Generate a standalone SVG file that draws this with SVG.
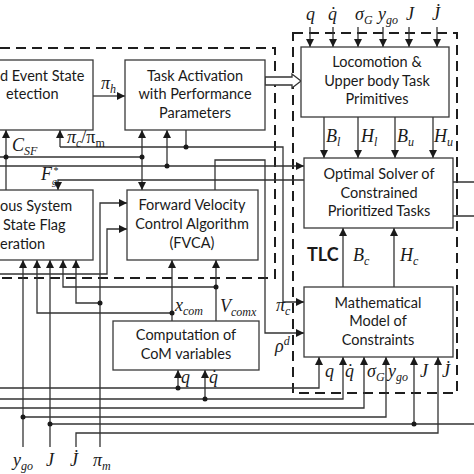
<svg xmlns="http://www.w3.org/2000/svg" width="474" height="474" viewBox="0 0 474 474">
<style>
.box{fill:#fff;stroke:#3a3a3a;stroke-width:1.3}
.ln{fill:none;stroke:#333;stroke-width:1.3}
.ar{fill:none;stroke:#333;stroke-width:1.3;marker-end:url(#ah)}
.dash{fill:none;stroke:#1e1e1e;stroke-width:2;stroke-dasharray:10 6}
.t{font-family:Lato,"Open Sans",sans-serif;font-size:14.5px;fill:#1a1a1a}
.tc{font-family:Lato,"Open Sans",sans-serif;font-size:14.5px;fill:#1a1a1a;text-anchor:middle}
.m{font-family:"Liberation Serif",serif;font-style:italic;font-size:18px;fill:#1a1a1a}
.s{font-size:12px}
.dot{fill:#1a1a1a}
</style>
<defs>
<marker id="ah" markerUnits="userSpaceOnUse" markerWidth="9" markerHeight="8" refX="8" refY="4" orient="auto">
<path d="M0,0 L8,4 L0,8 z" fill="#1a1a1a"/>
</marker>
</defs>
<rect width="474" height="474" fill="#fff"/>
<g id="frames">
<path class="dash" d="M0,48 H275 V278 H0"/>
<path class="dash" d="M293,33 H457 V393 H293 Z"/>
</g>
<g id="connectors">
<path class="ar" d="M93,96 H125"/>
<path d="M265,77 H292 V74 L301,81 L292,88 V85 H265 Z" fill="#fff" stroke="#333" stroke-width="1.3"/>
<path class="ar" d="M310,27 V47"/>
<path class="ar" d="M333,27 V47"/>
<path class="ar" d="M358,27 V47"/>
<path class="ar" d="M383,27 V47"/>
<path class="ar" d="M409,27 V47"/>
<path class="ar" d="M437,27 V47"/>
<path class="ar" d="M324,117 V158"/>
<path class="ar" d="M358,117 V158"/>
<path class="ar" d="M395,117 V158"/>
<path class="ar" d="M433,117 V158"/>
<path class="ln" d="M453,182 H474 M453,216 H474"/>
<path class="ar" d="M343,287 V228"/>
<path class="ar" d="M394,287 V228"/>
<path class="ar" d="M6,190 V130"/>
<path class="ln" d="M0,157 H142"/>
<path class="ar" d="M142,157 V130"/>
<path class="ar" d="M142,157 V190"/>
<path class="ln" d="M186,130 V147"/>
<path class="ar" d="M60,147 H283 V302 H304"/>
<path class="ar" d="M60,147 V130"/>
<path class="ar" d="M0,166 H304"/>
<path class="ar" d="M167,166 V130"/>
<path class="ar" d="M304,180 H58 V190"/>
<path class="ar" d="M215,190 V160 H265 V333 H304"/>
<path class="ar" d="M100,447 V203 H127"/>
<path class="ar" d="M100,303 H76 V260"/>
<path class="ar" d="M0,274 H107 V229 H127"/>
<path class="ar" d="M172,321 V260"/>
<path class="ar" d="M172,313 H37 V260"/>
<path class="ar" d="M216,321 V260"/>
<path class="ar" d="M216,287 H63 V260"/>
<path class="ar" d="M23,447 V260"/>
<path class="ar" d="M23,417 H386 V357"/>
<path class="ar" d="M50,447 V260"/>
<path class="ln" d="M50,424 H474"/>
<path class="ar" d="M414,424 V357"/>
<path class="ar" d="M76,447 V433 H438 V357"/>
<path class="ar" d="M0,388 H319 V357"/>
<path class="ar" d="M178,388 V370"/>
<path class="ar" d="M0,399 H343 V357"/>
<path class="ar" d="M205,399 V370"/>
<path class="ar" d="M0,408 H364 V357"/>
<circle class="dot" cx="6" cy="157" r="2.5"/>
<circle class="dot" cx="142" cy="157" r="2.5"/>
<circle class="dot" cx="186" cy="147" r="2.5"/>
<circle class="dot" cx="167" cy="166" r="2.5"/>
<circle class="dot" cx="100" cy="303" r="2.5"/>
<circle class="dot" cx="172" cy="313" r="2.5"/>
<circle class="dot" cx="216" cy="287" r="2.5"/>
<circle class="dot" cx="23" cy="417" r="2.5"/>
<circle class="dot" cx="50" cy="424" r="2.5"/>
<circle class="dot" cx="414" cy="424" r="2.5"/>
<circle class="dot" cx="178" cy="388" r="2.5"/>
<circle class="dot" cx="205" cy="399" r="2.5"/>
</g>
<g id="event">
<rect class="box" x="-2" y="60" width="95" height="70"/>
<text class="t" x="0" y="81">d Event State</text>
<text class="t" x="6" y="99">etection</text>
</g>
<g id="autonomous">
<rect class="box" x="-2" y="190" width="95" height="70"/>
<text class="t" x="0" y="211">ous System</text>
<text class="t" x="3" y="230">State Flag</text>
<text class="t" x="0" y="249">eration</text>
</g>
<g id="task">
<rect class="box" x="125" y="60" width="140" height="70"/>
<text class="tc" x="195" y="81">Task Activation</text>
<text class="tc" x="195" y="99">with Performance</text>
<text class="tc" x="195" y="118">Parameters</text>
</g>
<g id="fvca">
<rect class="box" x="127" y="190" width="131" height="70"/>
<text class="tc" x="192" y="210">Forward Velocity</text>
<text class="tc" x="192" y="229">Control Algorithm</text>
<text class="tc" x="192" y="248">(FVCA)</text>
</g>
<g id="com">
<rect class="box" x="113" y="321" width="146" height="49"/>
<text class="tc" x="186" y="340">Computation of</text>
<text class="tc" x="186" y="359">CoM variables</text>
</g>
<g id="locomotion">
<rect class="box" x="301" y="47" width="148" height="70"/>
<text class="tc" x="377" y="67">Locomotion &amp;</text>
<text class="tc" x="377" y="86">Upper body Task</text>
<text class="tc" x="377" y="104">Primitives</text>
</g>
<g id="solver">
<rect class="box" x="304" y="158" width="149" height="70"/>
<text class="tc" x="379" y="179">Optimal Solver of</text>
<text class="tc" x="379" y="198">Constrained</text>
<text class="tc" x="379" y="216">Prioritized Tasks</text>
</g>
<g id="math">
<rect class="box" x="304" y="287" width="149" height="70"/>
<text class="tc" x="378" y="308">Mathematical</text>
<text class="tc" x="378" y="326">Model of</text>
<text class="tc" x="378" y="345">Constraints</text>
</g>
<g id="labels">
<text class="m" x="101" y="89">π<tspan class="s" dy="4">h</tspan></text>
<text class="m" x="12" y="151">C<tspan class="s" dy="4">SF</tspan></text>
<text class="m" x="67" y="143">π<tspan class="s" dy="4">c</tspan><tspan dy="-4" font-style="normal">/π</tspan><tspan class="s" dy="4" font-style="normal">m</tspan></text>
<text class="m" x="41" y="180" font-size="15">F<tspan font-size="10" dy="5">g</tspan><tspan font-size="10" dx="-4" dy="-11">*</tspan></text>
<text class="m" x="326" y="142">B<tspan class="s" dy="4">l</tspan></text>
<text class="m" x="361" y="142">H<tspan class="s" dy="4">l</tspan></text>
<text class="m" x="397" y="142">B<tspan class="s" dy="4">u</tspan></text>
<text class="m" x="434" y="142">H<tspan class="s" dy="4">u</tspan></text>
<text x="307" y="261" font-family="Lato,'Open Sans',sans-serif" font-weight="bold" font-size="18" fill="#1a1a1a">TLC</text>
<text class="m" x="353" y="261">B<tspan class="s" dy="4">c</tspan></text>
<text class="m" x="400" y="261">H<tspan class="s" dy="4">c</tspan></text>
<text class="m" x="175" y="311">x<tspan class="s" dy="4">com</tspan></text>
<text class="m" x="220" y="312">V<tspan class="s" dy="4">comx</tspan></text>
<text class="m" x="276" y="311">π<tspan class="s" dy="4">c</tspan></text>
<text class="m" x="275" y="352">ρ<tspan class="s" dy="-7">d</tspan></text>
<text class="m" x="181" y="383">q</text>
<text class="m" x="209" y="383">q̇</text>
<text class="m" x="325" y="377">q</text>
<text class="m" x="345" y="377">q̇</text>
<text class="m" x="367" y="377">σ<tspan class="s" dy="4">G</tspan></text>
<text class="m" x="388" y="377">y<tspan class="s" dy="4">go</tspan></text>
<text class="m" x="420" y="377">J</text>
<text class="m" x="442" y="377">J̇</text>
<text class="m" x="306" y="20">q</text>
<text class="m" x="328" y="20">q̇</text>
<text class="m" x="355" y="20">σ<tspan class="s" dy="4">G</tspan></text>
<text class="m" x="378" y="20">y<tspan class="s" dy="4">go</tspan></text>
<text class="m" x="406" y="20">J</text>
<text class="m" x="432" y="20">J̇</text>
<text class="m" x="13" y="466">y<tspan class="s" dy="4">go</tspan></text>
<text class="m" x="46" y="466">J</text>
<text class="m" x="70" y="466">J̇</text>
<text class="m" x="93" y="466">π<tspan class="s" dy="4">m</tspan></text>
</g>
</svg>
